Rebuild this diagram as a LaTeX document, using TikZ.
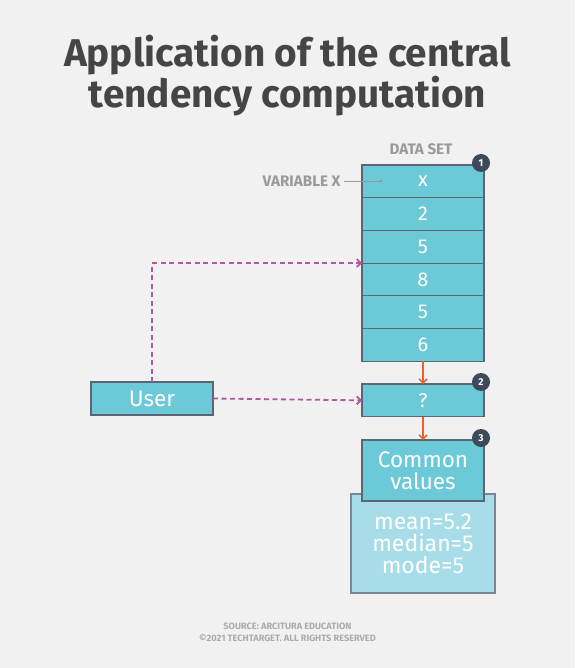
\documentclass[tikz,border=0pt]{standalone}
\usepackage{fontspec}
\setmainfont{Fira Sans}
\usetikzlibrary{arrows.meta}
\definecolor{bg}{HTML}{F1F1F1}
\definecolor{titlec}{HTML}{454545}
\definecolor{cellc}{HTML}{6BC9D8}
\definecolor{lightc}{HTML}{A7DDE8}
\definecolor{edgec}{HTML}{5B6672}
\definecolor{edge2}{HTML}{7C8794}
\definecolor{badgec}{HTML}{3E4A5A}
\definecolor{grayt}{HTML}{9A9A9A}
\definecolor{footc}{HTML}{ABABAB}
\definecolor{magc}{HTML}{B0589B}
\definecolor{orangec}{HTML}{F0602A}
\tikzset{
  cell/.style={draw=edgec, line width=1.2pt, fill=cellc, minimum width=122pt, minimum height=32.7pt, inner sep=0pt, outer sep=0pt, text=white, font=\fontsize{20}{22}\selectfont},
  badge/.style={circle, fill=badgec, minimum size=18pt, inner sep=0pt, text=white, font=\bfseries\fontsize{10}{10}\selectfont},
  userarrow/.style={draw=magc, line width=1.8pt, dash pattern=on 5pt off 3.5pt, -{Straight Barb[length=4pt,width=8pt]}},
  flowarrow/.style={draw=orangec, line width=1.5pt, -{Straight Barb[length=4pt,width=8pt]}},
  graylabel/.style={text=grayt, font=\bfseries\fontsize{15.2}{15}\selectfont},
}
\begin{document}
\begin{tikzpicture}[x=1pt,y=-1pt]
\fill[bg] (0,0) rectangle (575,668);
\useasboundingbox (0,0) rectangle (575,668);
% title
\node[text=titlec, font=\bfseries\fontsize{38.7}{39}\selectfont, align=center] (title) at (287.5,76) {Application of the central\\tendency computation};
% data set
\node[graylabel] (dslabel) at (421,149) {DATA SET};
\node[cell, anchor=north west] (c1) at (362,165) {x};
\node[cell, anchor=north] (c2) at (c1.south) {2};
\node[cell, anchor=north] (c3) at (c2.south) {5};
\node[cell, anchor=north] (c4) at (c3.south) {8};
\node[cell, anchor=north] (c5) at (c4.south) {5};
\node[cell, anchor=north] (c6) at (c5.south) {6};
\node[badge] (b1) at (481,163) {1};
% variable x
\node[graylabel, anchor=east] (varx) at (344,181) {VARIABLE X};
\coordinate (vdot) at (381,181);
\draw[grayt, line width=0.8pt] (varx.east) -- (vdot);
\fill[grayt] (vdot) circle (1.5pt);
% question box
\node[cell, anchor=north west] (q) at (362,384) {?};
\node[badge] (b2) at (481,382) {2};
% results
\node[draw=edge2, line width=1.2pt, fill=lightc, minimum width=144pt, minimum height=99pt, anchor=north west, inner sep=0pt, outer sep=0pt] (res) at (351,494) {};
\node[text=white, align=center, font=\fontsize{23}{22}\selectfont] (restext) at (423,544) {mean=5.2\\median=5\\mode=5};
\node[cell, anchor=north west, minimum height=61pt, align=center, font=\fontsize{22.5}{22}\selectfont] (cv) at (362,440) {Common\\values};
\node[badge] (b3) at (481,438) {3};
% user
\node[cell, anchor=north west, minimum height=33pt, font=\fontsize{22.5}{22}\selectfont] (user) at (91,382) {User};
% connectors
\draw[flowarrow] (c6.south) -- (q.north);
\draw[flowarrow] (q.south) -- (cv.north);
\draw[userarrow] (user.east) -- (q.west);
\draw[userarrow] (user.north -| 152,0) |- (c4.north west);
% footer
\node[text=footc, font=\bfseries\fontsize{9.2}{9}\selectfont] (src) at (287.5,626) {SOURCE: ARCITURA EDUCATION};
\node[text=footc, font=\bfseries\fontsize{9.2}{9}\selectfont] (copy) at (287.5,638) {©2021 TECHTARGET. ALL RIGHTS RESERVED};
\end{tikzpicture}
\end{document}
